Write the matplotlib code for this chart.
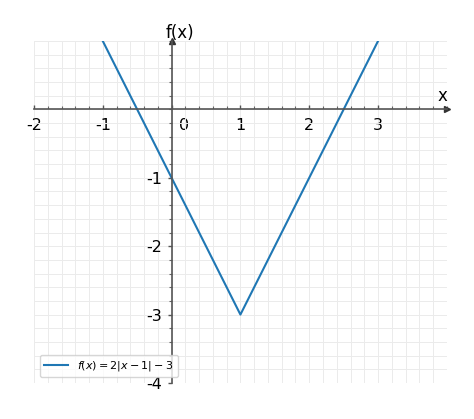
import matplotlib
matplotlib.use("Agg")
import matplotlib.pyplot as plt
import matplotlib.transforms as mtransforms
from matplotlib.ticker import MultipleLocator

# points: f(x) = 2|x-1| - 3
x_pts = [-1, 1, 3]
y_pts = [1, -3, 1]

x_ticks = [-2, -1, 0, 1, 2, 3]
x_labels = ["-2", "-1", "0", "1", "2", "3"]
y_ticks = [-4, -3, -2, -1]
y_labels = ["-4", "-3", "-2", "-1"]

fig = plt.figure(figsize=(4.74, 4.19), dpi=100)
ax = fig.add_axes([0.0717, 0.086, 0.871, 0.816])

ax.plot(x_pts, y_pts, color="tab:blue", lw=1.5, label=r"$f(x) = 2|x-1|-3$")

ax.set_xlim(-2, 4)
ax.set_ylim(-4, 1)

ax.spines["left"].set_position(("data", 0))
ax.spines["bottom"].set_position(("data", 0))
ax.spines["right"].set_visible(False)
ax.spines["top"].set_visible(False)
for s in ["left", "bottom"]:
    ax.spines[s].set_color("#555555")
    ax.spines[s].set_linewidth(1.2)

ax.set_xticks(x_ticks)
ax.set_xticklabels(x_labels)
ax.set_yticks(y_ticks)
ax.set_yticklabels(y_labels)
ax.xaxis.set_minor_locator(MultipleLocator(0.2))
ax.yaxis.set_minor_locator(MultipleLocator(0.2))
ax.tick_params(axis="x", which="major", direction="in", length=3, width=1, color="#555555",
               labelsize=11.5, pad=6)
ax.tick_params(axis="y", which="major", direction="out", length=3, width=1, color="#555555",
               labelsize=11.5, pad=4)
ax.tick_params(axis="x", which="minor", direction="in", length=2, width=0.8, color="#666666")
ax.tick_params(axis="y", which="minor", direction="out", length=2, width=0.8, color="#666666")

# shift the "0" label off the y axis
offset = mtransforms.ScaledTranslation(12 / 100, 0, fig.dpi_scale_trans)
for lab in ax.get_xticklabels():
    if lab.get_text() == "0":
        lab.set_transform(lab.get_transform() + offset)

ax.grid(which="both", color="#ebebeb", lw=0.7)
ax.set_axisbelow(True)

# arrows at the ends of the axes
ax.plot(1, 0, ">", color="#333333", ms=5, transform=ax.get_yaxis_transform(), clip_on=False)
ax.plot(0, 1, "^", color="#333333", ms=5, transform=ax.get_xaxis_transform(), clip_on=False)

ax.text(3.93, 0.07, "x", fontsize=12, ha="center", va="bottom")
ax.text(0.12, 0.99, "f(x)", fontsize=12, ha="center", va="bottom")

ax.legend(loc="lower left", fontsize=8, borderaxespad=0.5, handlelength=2.2)

fig.savefig("out.png", dpi=100)
